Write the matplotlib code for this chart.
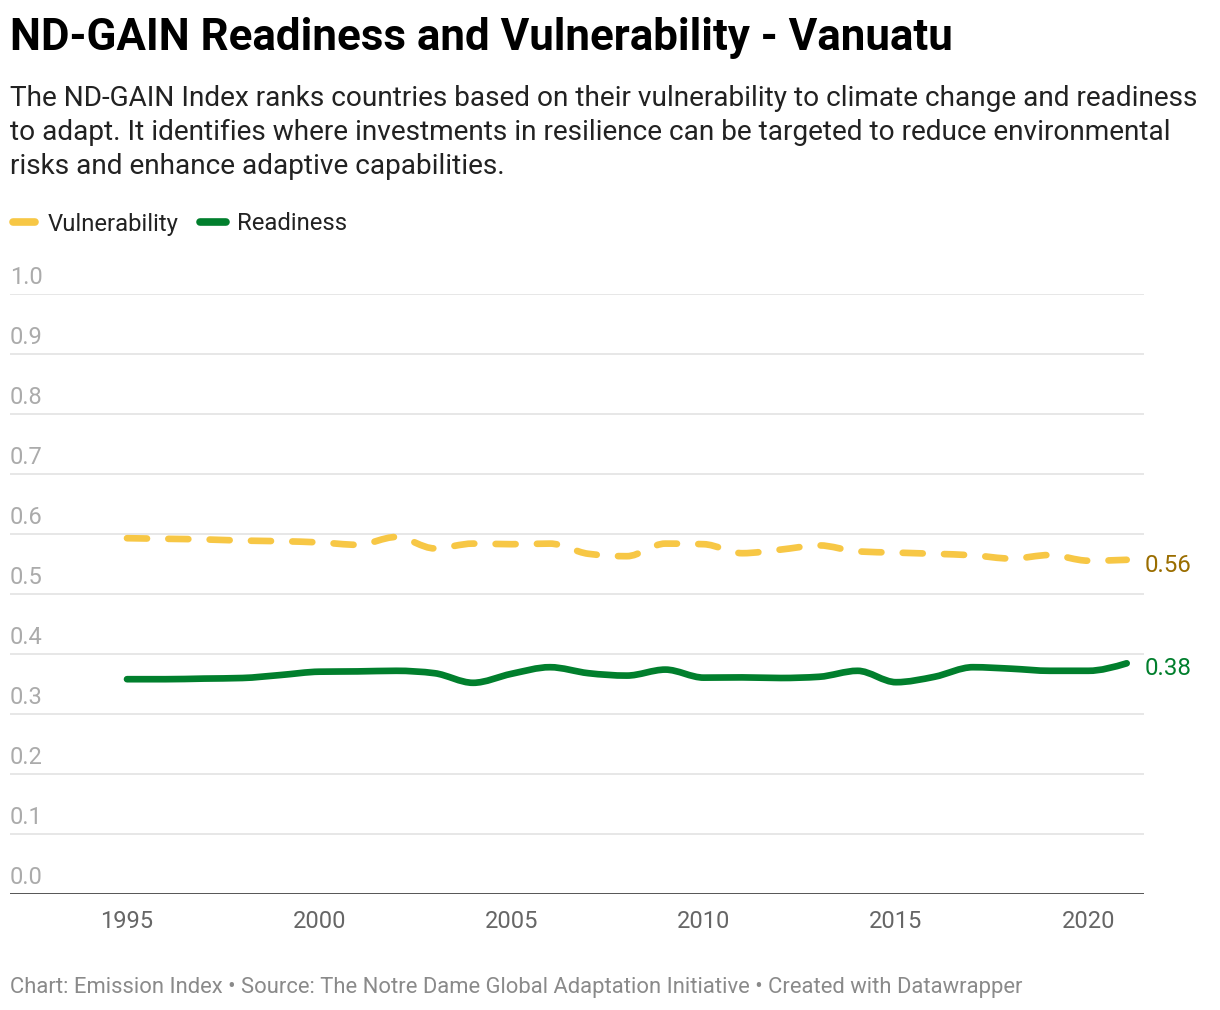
import numpy as np
import matplotlib.pyplot as plt
from matplotlib.path import Path
from matplotlib.patches import PathPatch
from matplotlib.lines import Line2D

plt.rcParams['font.family'] = ['Roboto', 'DejaVu Sans']

years = list(range(1995, 2022))
vulnerability = [0.593, 0.592, 0.591, 0.589, 0.588, 0.586, 0.582, 0.595, 0.576,
                 0.584, 0.583, 0.584, 0.567, 0.563, 0.584, 0.583, 0.568, 0.574,
                 0.581, 0.571, 0.569, 0.567, 0.5645, 0.559, 0.565, 0.5555, 0.557]
readiness = [0.358, 0.358, 0.359, 0.360, 0.365, 0.3705, 0.371, 0.372, 0.368,
             0.352, 0.367, 0.378, 0.368, 0.364, 0.374, 0.3606, 0.361, 0.360,
             0.362, 0.372, 0.353, 0.362, 0.378, 0.3755, 0.372, 0.372, 0.3845]
y_ticks = [0.0, 0.1, 0.2, 0.3, 0.4, 0.5, 0.6, 0.7, 0.8, 0.9, 1.0]
x_ticks = [1995, 2000, 2005, 2010, 2015, 2020]

VULN = '#f7c745'
VULN_LABEL = '#9a6d00'
READY = '#017f2d'

title = 'ND-GAIN Readiness and Vulnerability - Vanuatu'
subtitle = ['The ND-GAIN Index ranks countries based on their vulnerability to climate change and readiness',
            'to adapt. It identifies where investments in resilience can be targeted to reduce environmental',
            'risks and enhance adaptive capabilities.']
footer = ('Chart: Emission Index \u2022 Source: The Notre Dame Global Adaptation Initiative '
          '\u2022 Created with Datawrapper')


def monotone_path(x, y):
    # same idea as d3.curveMonotoneX, drawn as cubic bezier segments
    x = np.asarray(x, float)
    y = np.asarray(y, float)
    n = len(x)
    t = np.zeros(n)
    for i in range(1, n - 1):
        h0, h1 = x[i] - x[i - 1], x[i + 1] - x[i]
        s0, s1 = (y[i] - y[i - 1]) / h0, (y[i + 1] - y[i]) / h1
        p = (s0 * h1 + s1 * h0) / (h0 + h1)
        t[i] = (np.sign(s0) + np.sign(s1)) * min(abs(s0), abs(s1), 0.5 * abs(p))
    t[0] = (3 * (y[1] - y[0]) / (x[1] - x[0]) - t[1]) / 2
    t[-1] = (3 * (y[-1] - y[-2]) / (x[-1] - x[-2]) - t[-2]) / 2
    verts = [(x[0], y[0])]
    codes = [Path.MOVETO]
    for i in range(n - 1):
        dx = (x[i + 1] - x[i]) / 3
        verts += [(x[i] + dx, y[i] + dx * t[i]),
                  (x[i + 1] - dx, y[i + 1] - dx * t[i + 1]),
                  (x[i + 1], y[i + 1])]
        codes += [Path.CURVE4] * 3
    return Path(verts, codes)


fig = plt.figure(figsize=(12.2, 10.1), dpi=100)
W, H = 1220, 1010

ax = fig.add_axes([10 / W, (H - 894) / H, 1134 / W, 600 / H])
x0 = 1995 - 117 / 38.45
x1 = 2021 + 17.3 / 38.45
ax.set_xlim(x0, x1)
ax.set_ylim(0, 1)

for v in y_ticks[1:]:
    ax.axhline(v, color='#e3e3e3', lw=1.2, zorder=0)
ax.axhline(0, color='#222222', lw=1.8, zorder=3)
for v in y_ticks:
    ax.annotate(f'{v:.1f}', (0, v), xycoords=('axes fraction', 'data'),
                xytext=(0, 3.6), textcoords='offset points',
                ha='left', va='bottom', fontsize=17, color='#ababab')

ax.set_xticks(x_ticks)
ax.set_xticklabels([str(x) for x in x_ticks])
ax.tick_params(axis='x', length=0, pad=11.5, labelsize=17, labelcolor='#666666')
ax.set_yticks([])
for spine in ax.spines.values():
    spine.set_visible(False)

ax.add_patch(PathPatch(monotone_path(years, vulnerability), fill=False, edgecolor=VULN,
                       lw=4.8, linestyle=(0, (3.0, 3.2)), capstyle='round', zorder=4))
ax.add_patch(PathPatch(monotone_path(years, readiness), fill=False, edgecolor=READY,
                       lw=4.8, capstyle='round', joinstyle='round', zorder=5))

ax.annotate(f'{vulnerability[-1]:.2f}', (years[-1], vulnerability[-1]),
            xytext=(13, -4), textcoords='offset points', ha='left', va='center',
            fontsize=17.3, color=VULN_LABEL, annotation_clip=False)
ax.annotate(f'{readiness[-1]:.2f}', (years[-1], readiness[-1]),
            xytext=(13, -4), textcoords='offset points', ha='left', va='center',
            fontsize=17.3, color=READY, annotation_clip=False)

# header
fig.text(10 / W, 1 - 38 / H, title, fontsize=31.6, fontweight='bold', color='#000000',
         ha='left', va='center')
for i, line in enumerate(subtitle):
    fig.text(10 / W, 1 - (98 + 34 * i) / H, line, fontsize=20.2, color='#222222',
             ha='left', va='center')

# legend
fig.add_artist(Line2D([13 / W, 35 / W], [1 - 222 / H] * 2, color=VULN, lw=5.5,
                      solid_capstyle='round'))
fig.text(48 / W, 1 - 224 / H, 'Vulnerability', fontsize=17.2, color='#222222',
         ha='left', va='center')
fig.add_artist(Line2D([200 / W, 226 / W], [1 - 222 / H] * 2, color=READY, lw=5.5,
                      solid_capstyle='round'))
fig.text(237 / W, 1 - 224 / H, 'Readiness', fontsize=17.2, color='#222222',
         ha='left', va='center')

fig.text(10 / W, 1 - 987 / H, footer, fontsize=15.85, color='#8a8a8a', ha='left', va='center')

fig.savefig('out.png', dpi=100)
